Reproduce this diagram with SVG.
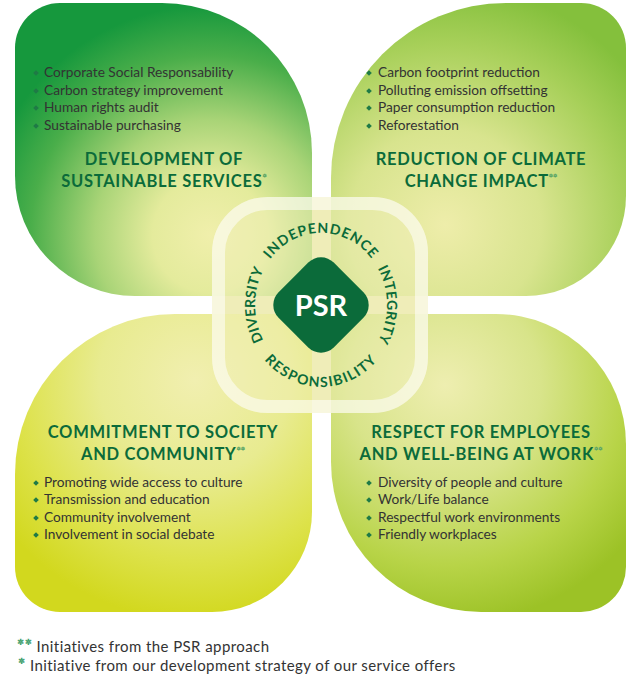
<svg xmlns="http://www.w3.org/2000/svg" width="629" height="683" viewBox="0 0 629 683">
<style>
.title{font-family:Lato,"Open Sans","Liberation Sans",sans-serif;font-weight:700;font-size:16.5px;fill:#0b6b3a;text-anchor:middle;letter-spacing:0.7px}
.item{font-family:Lato,"Open Sans","Liberation Sans",sans-serif;font-size:13.7px;fill:#333333}
.ast{font-size:10px;fill:#eef4cc;stroke:#4f9f5a;stroke-width:0.5px;letter-spacing:0}
.val{font-family:Lato,"Open Sans","Liberation Sans",sans-serif;font-weight:700;font-size:14px;fill:#0b6b3a}
.note{font-family:Lato,"Open Sans","Liberation Sans",sans-serif;font-size:15px;letter-spacing:0.42px;fill:#333333}
.nast{fill:#d9efdd;stroke:#3f9e6c;stroke-width:0.7px;font-size:17px}
.bul{fill:#1f7a46}
</style>
<defs>
<radialGradient id="gTL" gradientUnits="userSpaceOnUse" cx="210" cy="235" r="230">
<stop offset="0" stop-color="#f0efab"/><stop offset="0.25" stop-color="#e4eb9c"/><stop offset="0.5" stop-color="#a9d477"/><stop offset="0.78" stop-color="#4aae4a"/><stop offset="1" stop-color="#16983d"/>
</radialGradient>
<radialGradient id="gTR" gradientUnits="userSpaceOnUse" cx="445" cy="225" r="240">
<stop offset="0" stop-color="#eeedaa"/><stop offset="0.4" stop-color="#d8e48e"/><stop offset="0.75" stop-color="#a8d05a"/><stop offset="1" stop-color="#84c03c"/>
</radialGradient>
<radialGradient id="gBL" gradientUnits="userSpaceOnUse" cx="195" cy="380" r="240">
<stop offset="0" stop-color="#f1efb0"/><stop offset="0.4" stop-color="#e8eb90"/><stop offset="0.75" stop-color="#dde24a"/><stop offset="1" stop-color="#d2d81e"/>
</radialGradient>
<radialGradient id="gBR" gradientUnits="userSpaceOnUse" cx="445" cy="385" r="240">
<stop offset="0" stop-color="#eeeeb0"/><stop offset="0.4" stop-color="#d8e48a"/><stop offset="0.75" stop-color="#b8d448"/><stop offset="1" stop-color="#9cc226"/>
</radialGradient>
<clipPath id="sqClip"><rect x="212" y="197" width="216" height="216" rx="55"/></clipPath>
<path id="b" d="M0,-2.8 L2.8,0 L0,2.8 L-2.8,0Z"/>
<path id="pTop" d="M255,305 A66,72 0 0 1 387,305"/>
<path id="pRight" d="M321,233 A66,72 0 0 1 321,377"/>
<path id="pLeft" d="M321,377 A66,72 0 0 1 321,233"/>
<path id="pBottom" d="M245,305 A76,82 0 0 0 397,305"/>
</defs>
<rect width="629" height="683" fill="#ffffff"/>

<g id="leaf-sustainable-services">
<path d="M60,3 H162 A150,150 0 0 1 312,153 V296 H135 A120,120 0 0 1 15,176 V48 A45,45 0 0 1 60,3 Z" fill="url(#gTL)"/>
<use href="#b" class="bul" x="36" y="73"/><text class="item" x="44" y="77">Corporate Social Responsability</text>
<use href="#b" class="bul" x="36" y="91"/><text class="item" x="44" y="95">Carbon strategy improvement</text>
<use href="#b" class="bul" x="36" y="108"/><text class="item" x="44" y="112">Human rights audit</text>
<use href="#b" class="bul" x="36" y="126"/><text class="item" x="44" y="130">Sustainable purchasing</text>
<text class="title" x="164" y="165">DEVELOPMENT OF</text>
<text class="title" x="164" y="187">SUSTAINABLE SERVICES<tspan class="ast" dy="-6">*</tspan></text>
</g>

<g id="leaf-climate-change">
<path d="M331,296 V178 A175,175 0 0 1 506,3 H581 A45,45 0 0 1 626,48 V196 A100,100 0 0 1 526,296 Z" fill="url(#gTR)"/>
<use href="#b" class="bul" x="369" y="73"/><text class="item" x="378" y="77">Carbon footprint reduction</text>
<use href="#b" class="bul" x="369" y="91"/><text class="item" x="378" y="95">Polluting emission offsetting</text>
<use href="#b" class="bul" x="369" y="108"/><text class="item" x="378" y="112">Paper consumption reduction</text>
<use href="#b" class="bul" x="369" y="126"/><text class="item" x="378" y="130">Reforestation</text>
<text class="title" x="481" y="165">REDUCTION OF CLIMATE</text>
<text class="title" x="481" y="187">CHANGE IMPACT<tspan class="ast" dy="-6">**</tspan></text>
</g>

<g id="leaf-society-community">
<path d="M312,314 V512 A100,100 0 0 1 212,612 H60 A45,45 0 0 1 15,567 V474 A160,160 0 0 1 175,314 Z" fill="url(#gBL)"/>
<text class="title" x="163" y="438">COMMITMENT TO SOCIETY</text>
<text class="title" x="163" y="460">AND COMMUNITY<tspan class="ast" dy="-6">**</tspan></text>
<use href="#b" class="bul" x="36" y="483"/><text class="item" x="44" y="487">Promoting wide access to culture</text>
<use href="#b" class="bul" x="36" y="500"/><text class="item" x="44" y="504">Transmission and education</text>
<use href="#b" class="bul" x="36" y="518"/><text class="item" x="44" y="522">Community involvement</text>
<use href="#b" class="bul" x="36" y="535"/><text class="item" x="44" y="539">Involvement in social debate</text>
</g>

<g id="leaf-employees-wellbeing">
<path d="M331,314 H496 A130,130 0 0 1 626,444 V567 A45,45 0 0 1 581,612 H481 A150,150 0 0 1 331,462 Z" fill="url(#gBR)"/>
<text class="title" x="481" y="438">RESPECT FOR EMPLOYEES</text>
<text class="title" x="481" y="460">AND WELL-BEING AT WORK<tspan class="ast" dy="-6">**</tspan></text>
<use href="#b" class="bul" x="369" y="483"/><text class="item" x="378" y="487">Diversity of people and culture</text>
<use href="#b" class="bul" x="369" y="500"/><text class="item" x="378" y="504">Work/Life balance</text>
<use href="#b" class="bul" x="369" y="518"/><text class="item" x="378" y="522">Respectful work environments</text>
<use href="#b" class="bul" x="369" y="535"/><text class="item" x="378" y="539">Friendly workplaces</text>
</g>

<g id="psr-core">
<g clip-path="url(#sqClip)">
<rect x="312" y="190" width="19" height="230" fill="#ecebb2"/>
<rect x="205" y="296" width="230" height="18" fill="#ecebb2"/>
</g>
<rect x="212" y="197" width="216" height="216" rx="55" fill="#f3f1c0" fill-opacity="0.42"/>
<rect x="218.5" y="203.5" width="203" height="203" rx="49" fill="none" stroke="#ffffff" stroke-opacity="0.55" stroke-width="13"/>
<rect x="-39" y="-39" width="78" height="78" rx="18" fill="#0b6b3a" transform="translate(321,305) rotate(45)"/>
<text x="321" y="316" text-anchor="middle" font-family="Lato,'Open Sans','Liberation Sans',sans-serif" font-weight="700" font-size="29" fill="#ffffff">PSR</text>
<text class="val" letter-spacing="0.9"><textPath href="#pTop" startOffset="50%" text-anchor="middle">INDEPENDENCE</textPath></text>
<text class="val" letter-spacing="0.5"><textPath href="#pRight" startOffset="50%" text-anchor="middle">INTEGRITY</textPath></text>
<text class="val" letter-spacing="0.3"><textPath href="#pLeft" startOffset="50%" text-anchor="middle">DIVERSITY</textPath></text>
<text class="val" letter-spacing="1.4"><textPath href="#pBottom" startOffset="50%" text-anchor="middle">RESPONSIBILITY</textPath></text>
</g>

<g id="connectors"/>

<g id="footnotes">
<text class="note" x="17" y="652"><tspan class="nast">**</tspan> Initiatives from the PSR approach</text>
<text class="note" x="18" y="671"><tspan class="nast">*</tspan> Initiative from our development strategy of our service offers</text>
</g>
</svg>
